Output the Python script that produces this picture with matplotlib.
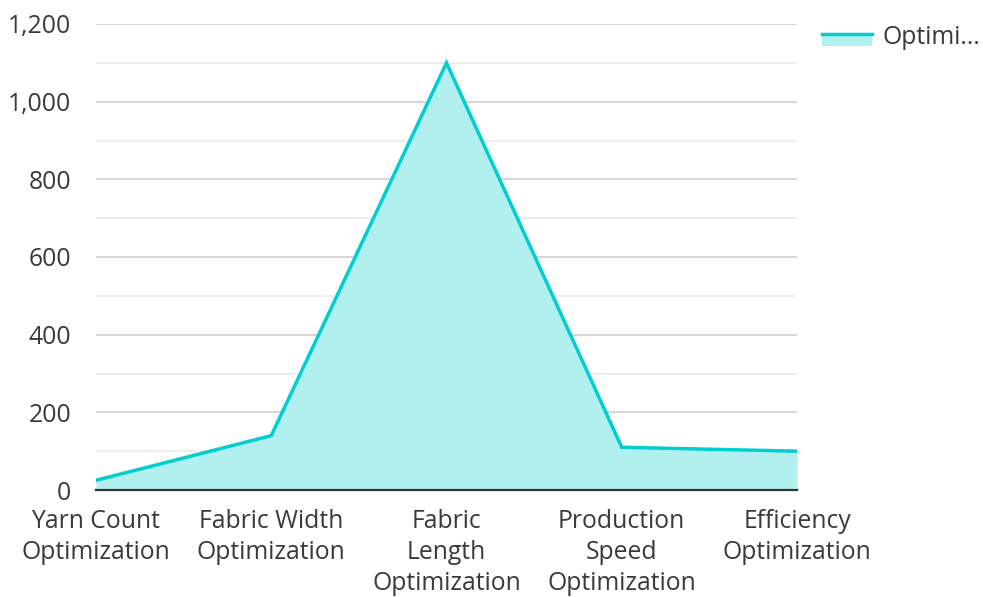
import matplotlib
matplotlib.use("Agg")
import matplotlib.pyplot as plt
from matplotlib.patches import Rectangle
from matplotlib.lines import Line2D

categories = ["Yarn Count\nOptimization", "Fabric Width\nOptimization",
              "Fabric\nLength\nOptimization", "Production\nSpeed\nOptimization",
              "Efficiency\nOptimization"]
values = [25, 140, 1100, 110, 100]
series_name = "Optimi..."
y_ticks = [0, 200, 400, 600, 800, 1000, 1200]
y_tick_labels = ["0", "200", "400", "600", "800", "1,000", "1,200"]

plt.rcParams['font.family'] = ['Open Sans', 'DejaVu Sans']
LINE = '#00CED1'
FILL = '#B2EFEF'
TXT = '#3a3a3a'
FS = 17.8

fig = plt.figure(figsize=(9.83, 5.97), dpi=100)
ax = fig.add_axes([96/983, 1-490/597, (797-96)/983, (490-24)/597])

x = list(range(len(categories)))
ax.fill_between(x, values, 0, color=FILL, zorder=2, linewidth=0)
ax.plot(x, values, color=LINE, lw=2.5, zorder=3, solid_joinstyle='miter')

ax.set_xlim(0, len(categories)-1)
ax.set_ylim(0, 1200)
for v in range(100, 1201, 100):
    major = v % 200 == 0
    ax.axhline(v, color='#cccccc' if major else '#e8e8e8', lw=1.1, zorder=1)

ax.set_yticks(y_ticks)
ax.set_yticklabels(y_tick_labels)
ax.set_xticks(x)
ax.set_xticklabels(categories, linespacing=1.32)
ax.tick_params(axis='both', length=0, labelsize=FS, labelcolor=TXT)
ax.tick_params(axis='y', pad=18)
ax.tick_params(axis='x', pad=13.5)
for s in ['top', 'right', 'left']:
    ax.spines[s].set_visible(False)
ax.spines['bottom'].set_color('#333333')
ax.spines['bottom'].set_linewidth(1.6)
ax.spines['bottom'].set_zorder(4)

# legend
W, H = 983, 597
fig.add_artist(Rectangle((822/W, 1-46/H), 50/W, 13/H, transform=fig.transFigure,
                         facecolor=FILL, edgecolor='none'))
fig.add_artist(Line2D([822/W, 872/W], [1-34/H, 1-34/H], transform=fig.transFigure,
                      color=LINE, lw=2.5))
fig.text(882/W, 1-37/H, series_name, fontsize=FS, color=TXT, va='center', ha='left')

fig.savefig('out.png', dpi=100)
